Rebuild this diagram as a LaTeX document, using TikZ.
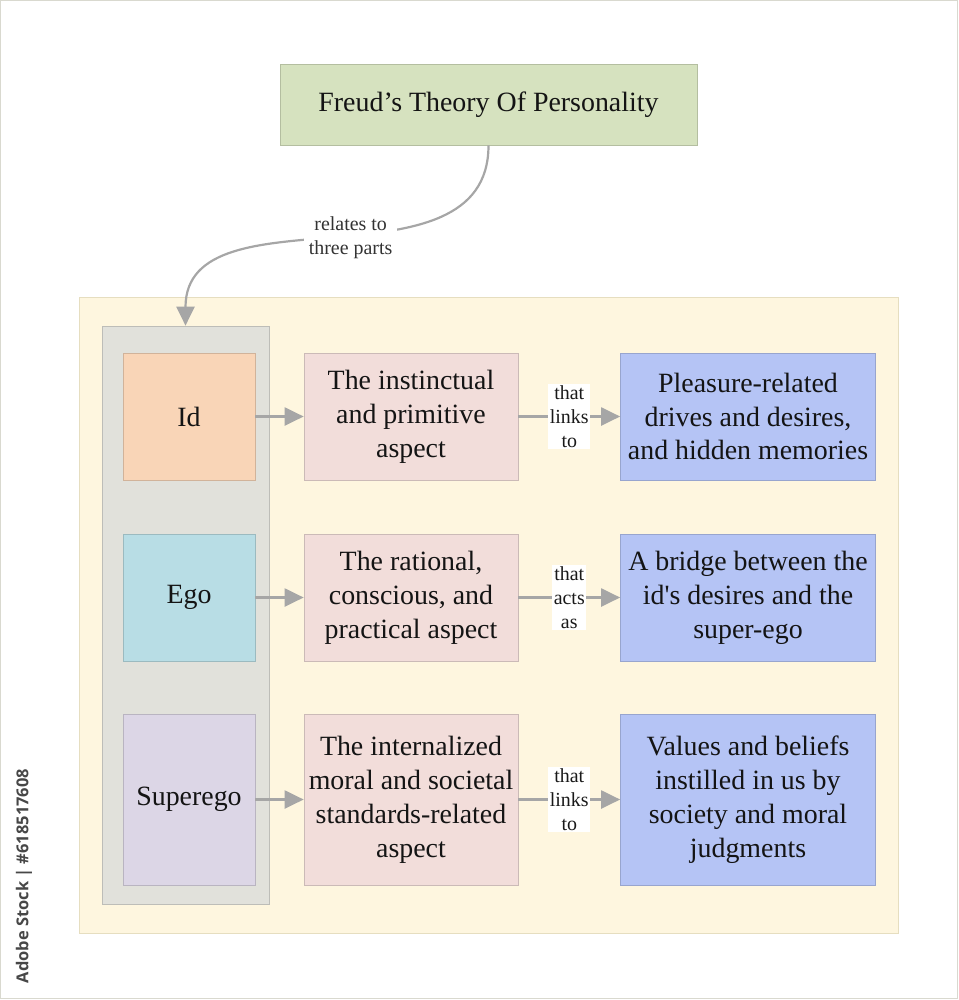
\documentclass[tikz,border=0pt]{standalone}
\usepackage{fontspec}
\setmainfont{Liberation Serif}
\newfontfamily\marksans{Open Sans}
\usetikzlibrary{arrows.meta}
\definecolor{framegray}{HTML}{D9D9CF}
\definecolor{panelfill}{HTML}{FEF6DF}
\definecolor{panelline}{HTML}{E6DEC0}
\definecolor{colfill}{HTML}{E1E1DB}
\definecolor{titlefill}{HTML}{D6E2BF}
\definecolor{idfill}{HTML}{F9D5B7}
\definecolor{egofill}{HTML}{B8DDE5}
\definecolor{superfill}{HTML}{DCD6E6}
\definecolor{aspectfill}{HTML}{F2DDDA}
\definecolor{resultfill}{HTML}{B5C4F5}
\definecolor{linkgray}{HTML}{A6A6A6}
\begin{document}
\begin{tikzpicture}[x=1bp,y=-1bp,
 cell/.style={fill=#1,draw=#1!84!black,line width=0.7bp,inner sep=0pt,align=center,text=black!92,font=\fontsize{28}{34}\selectfont},
 link/.style={draw=linkgray,line width=2.2bp,-{Triangle[length=19bp,width=18bp]}},
 tag/.style={fill=white,inner sep=1.5bp,align=center,text=black!90,font=\fontsize{20}{24}\selectfont}]
 \useasboundingbox (0,0) rectangle (959,1000);
 \draw[framegray,line width=1bp](0.5,0.5) rectangle (957.5,998.5);
 \draw[fill=panelfill,draw=panelline,line width=0.8bp](79,297) rectangle (898,933);
 \node[cell=titlefill,minimum width=417bp,minimum height=81bp] (freud) at (488.5,104.5) {Freud’s Theory Of Personality};
 \node[cell=colfill,minimum width=167bp,minimum height=578bp] (parts) at (185.5,615) {};
 \node[cell=idfill,minimum width=132bp,minimum height=127bp] (id) at (189,416.5) {Id};
 \node[cell=egofill,minimum width=132bp,minimum height=127bp] (ego) at (189,597.5) {Ego};
 \node[cell=superfill,minimum width=132bp,minimum height=171bp] (superego) at (189,799.5) {Superego};
 \node[cell=aspectfill,minimum width=214bp,minimum height=127bp] (idaspect) at (411,416.5) {The instinctual\\and primitive\\aspect};
 \node[cell=aspectfill,minimum width=214bp,minimum height=127bp] (egoaspect) at (411,597.5) {The rational,\\conscious, and\\practical aspect};
 \node[cell=aspectfill,minimum width=214bp,minimum height=171bp] (superaspect) at (411,799.5) {The internalized\\moral and societal\\standards-related\\aspect};
 \node[cell=resultfill,minimum width=255bp,minimum height=127bp] (idresult) at (748,416.5) {Pleasure-related\\drives and desires,\\and hidden memories};
 \node[cell=resultfill,minimum width=255bp,minimum height=127bp] (egoresult) at (748,597.5) {A bridge between the\\id\textquotesingle s desires and the\\super-ego};
 \node[cell=resultfill,minimum width=255bp,minimum height=171bp] (superresult) at (748,799.5) {Values and beliefs\\instilled in us by\\society and moral\\judgments};
 \draw[link](freud.south) .. controls +(0,150) and +(0,-140) .. node[tag,pos=0.47,inner sep=5bp,text=black!80] {relates to\\three parts} (parts.north);
 \draw[link](id) -- (idaspect);
 \draw[link](ego) -- (egoaspect);
 \draw[link](superego) -- (superaspect);
 \draw[link](idaspect) -- node[tag] {that\\links\\to} (idresult);
 \draw[link](egoaspect) -- node[tag] {that\\acts\\as} (egoresult);
 \draw[link](superaspect) -- node[tag] {that\\links\\to} (superresult);
 \node[rotate=90,text=black!72,font=\marksans\bfseries\fontsize{16.5}{16.5}\selectfont] (stockmark) at (24,876) {Adobe Stock | \#618517608};
\end{tikzpicture}
\end{document}
